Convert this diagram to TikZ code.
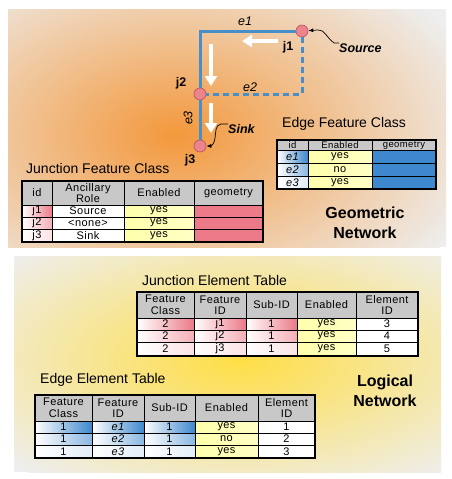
\documentclass[tikz,border=0pt]{standalone}
\usepackage{fontspec}
\setmainfont{Liberation Sans}
\newfontfamily\tabfont[LetterSpace=4]{Liberation Sans}
\newfontfamily\ttlfont{Liberation Sans}
\usetikzlibrary{arrows.meta}
\definecolor{panelc}{RGB}{238,238,238}
\definecolor{glowo}{RGB}{243,152,60}
\definecolor{glowy}{RGB}{255,222,70}
\definecolor{linec}{RGB}{72,142,200}
\definecolor{bluec}{RGB}{62,136,205}
\definecolor{pinkc}{RGB}{236,122,136}
\definecolor{circc}{RGB}{236,132,142}
\definecolor{circd}{RGB}{185,80,92}
\definecolor{yellowc}{RGB}{255,255,172}
\definecolor{headc}{RGB}{200,200,200}
\tikzset{
  tc/.style={draw=black,line width=0.7pt},
  hd/.style={fill=headc},
  wc/.style={fill=white},
  yc/.style={left color=yellowc,right color=yellowc!70!white},
  pk/.style={fill=pinkc},
  bl/.style={fill=bluec},
  pga/.style={left color=white,right color=pinkc},
  pgb/.style={left color=white,right color=pinkc!60!white},
  pgc/.style={left color=white,right color=pinkc!22!white},
  bga/.style={left color=white,right color=bluec},
  bgb/.style={left color=white,right color=bluec!60!white},
  bgc/.style={left color=white,right color=bluec!15!white},
  tab/.style={font=\tabfont\fontsize{11}{11.5}\selectfont,inner sep=0pt,align=center},
  ttl/.style={font=\ttlfont\fontsize{14}{16}\selectfont,anchor=west,inner sep=0pt},
  big/.style={font=\bfseries\fontsize{16}{20}\selectfont,align=center,inner sep=0pt},
  jn/.style={circle,draw=circd,fill=circc,line width=0.6pt,minimum size=12pt,inner sep=0pt},
  edgeline/.style={draw=linec,line width=3pt},
  dashedge/.style={edgeline,dash pattern=on 6pt off 4pt},
  warrow/.style={draw=white,line width=4pt,-{Triangle[width=12pt,length=10pt]}},
  conn/.style={draw=black,line width=0.7pt,-{Latex[length=5pt,width=4pt]}},
  jlab/.style={font=\bfseries\fontsize{12.5}{14}\selectfont,inner sep=0pt},
  elab/.style={font=\itshape\fontsize{12.5}{14}\selectfont,inner sep=0pt},
  rlab/.style={font=\bfseries\itshape\fontsize{12.5}{14}\selectfont,inner sep=0pt}
}
\newcommand\tcell[6]{\path[tc,#1] (#2,#3) rectangle (#4,#5); \node[tab] at ({(#2+#4)/2},{(#3+#5)/2}) {#6};}
\newcommand\smallhd{\fontsize{9.5}{10}\selectfont}
\begin{document}
\begin{tikzpicture}[x=1pt,y=-1pt]
\useasboundingbox (0,0) rectangle (452,479);
\fill[white] (0,0) rectangle (452,479);
% panels
\fill[panelc] (8,9) rectangle (446,247);
\fill[panelc] (14,256) rectangle (441,472);
\begin{scope}
  \clip (8,9) rectangle (446,247);
  \shade[inner color=glowo,outer color=panelc] (175,135) ellipse [x radius=320pt,y radius=200pt];
\end{scope}
\begin{scope}
  \clip (14,256) rectangle (441,472);
  \shade[inner color=glowy,outer color=panelc] (240,360) ellipse [x radius=320pt,y radius=150pt];
\end{scope}

% network
\node[jn] (j1) at (302,31) {};
\node[jn] (j2) at (200,94) {};
\node[jn] (j3) at (200,146) {};
\coordinate (c1) at (200,31);
\coordinate (c2) at (302,94);
\draw[edgeline] (j2) -- (c1) -- (j1);
\draw[edgeline] (j2) -- (j3);
\draw[dashedge] (j1) -- (c2) -- (j2);

\coordinate (a1s) at (278,41); \coordinate (a1e) at (242,41);
\coordinate (a2s) at (211,44); \coordinate (a2e) at (211,86);
\coordinate (a3s) at (211,103); \coordinate (a3e) at (211,133);
\draw[warrow] (a1s) -- (a1e);
\draw[warrow] (a2s) -- (a2e);
\draw[warrow] (a3s) -- (a3e);

\node[elab] (le1) at (245,21) {e1};
\node[elab] (le2) at (250,87) {e2};
\node[elab,rotate=90] (le3) at (188,118) {e3};
\node[jlab] (lj1) at (288,47) {j1};
\node[jlab] (lj2) at (181,83) {j2};
\node[jlab] (lj3) at (190,160) {j3};
\node[rlab,anchor=west] (src) at (339,48) {Source};
\node[rlab,anchor=west] (sink) at (228,129) {Sink};
\coordinate (srcend) at (339,43);
\coordinate (sinkend) at (228,124);
\draw[conn] (srcend) -- (334,43) .. controls (327,38) and (324,29) .. (318,30) -- (j1);
\draw[conn] (sinkend) -- (221,124) .. controls (215,125) and (216,132) .. (215,138) .. controls (214,145) and (211,146) .. (j3);

% Junction Feature Class
\node[ttl] (t1) at (26,168) {Junction Feature Class};
\tcell{hd}{22}{181}{52}{205}{id}
\tcell{hd}{52}{181}{124}{205}{Ancillary\\Role}
\tcell{hd}{124}{181}{194}{205}{Enabled}
\tcell{hd}{194}{181}{263}{205}{geometry}
\tcell{pga}{22}{205}{52}{217}{j1}
\tcell{wc}{52}{205}{124}{217}{Source}
\tcell{yc}{124}{205}{194}{217}{yes}
\tcell{pk}{194}{205}{263}{217}{}
\tcell{pgb}{22}{217}{52}{229}{j2}
\tcell{wc}{52}{217}{124}{229}{<none>}
\tcell{yc}{124}{217}{194}{229}{yes}
\tcell{pk}{194}{217}{263}{229}{}
\tcell{pgc}{22}{229}{52}{242}{j3}
\tcell{wc}{52}{229}{124}{242}{Sink}
\tcell{yc}{124}{229}{194}{242}{yes}
\tcell{pk}{194}{229}{263}{242}{}
\draw[line width=1.2pt] (22,181) rectangle (263,242);

% Edge Feature Class
\node[ttl] (t2) at (282,124) {Edge Feature Class};
\tcell{hd}{277}{140}{308}{150}{\smallhd id}
\tcell{hd}{308}{140}{372}{150}{\smallhd Enabled}
\tcell{hd}{372}{140}{436}{150}{\smallhd geometry}
\tcell{bga}{277}{150}{308}{163}{\itshape e1}
\tcell{yc}{308}{150}{372}{163}{yes}
\tcell{bl}{372}{150}{436}{163}{}
\tcell{bgb}{277}{163}{308}{176}{\itshape e2}
\tcell{yc}{308}{163}{372}{176}{no}
\tcell{bl}{372}{163}{436}{176}{}
\tcell{bgc}{277}{176}{308}{189}{\itshape e3}
\tcell{yc}{308}{176}{372}{189}{yes}
\tcell{bl}{372}{176}{436}{189}{}
\draw[line width=1.2pt] (277,140) rectangle (436,189);

\node[big] (gn) at (365,223) {Geometric\\Network};

% Junction Element Table
\node[ttl] (t3) at (142,280) {Junction Element Table};
\tcell{hd}{137}{292}{194}{318}{Feature\\Class}
\tcell{hd}{194}{292}{246}{318}{Feature\\ID}
\tcell{hd}{246}{292}{297}{318}{Sub-ID}
\tcell{hd}{297}{292}{356}{318}{Enabled}
\tcell{hd}{356}{292}{418}{318}{Element\\ID}
\tcell{pga}{137}{318}{194}{330}{2}
\tcell{pga}{194}{318}{246}{330}{j1}
\tcell{pga}{246}{318}{297}{330}{1}
\tcell{yc}{297}{318}{356}{330}{yes}
\tcell{wc}{356}{318}{418}{330}{3}
\tcell{pgb}{137}{330}{194}{342}{2}
\tcell{pgb}{194}{330}{246}{342}{j2}
\tcell{pgb}{246}{330}{297}{342}{1}
\tcell{yc}{297}{330}{356}{342}{yes}
\tcell{wc}{356}{330}{418}{342}{4}
\tcell{pgc}{137}{342}{194}{356}{2}
\tcell{pgc}{194}{342}{246}{356}{j3}
\tcell{pgc}{246}{342}{297}{356}{1}
\tcell{yc}{297}{342}{356}{356}{yes}
\tcell{wc}{356}{342}{418}{356}{5}
\draw[line width=1.2pt] (137,292) rectangle (418,356);

% Edge Element Table
\node[ttl] (t4) at (40,380) {Edge Element Table};
\tcell{hd}{35}{395}{92}{421}{Feature\\Class}
\tcell{hd}{92}{395}{144}{421}{Feature\\ID}
\tcell{hd}{144}{395}{195}{421}{Sub-ID}
\tcell{hd}{195}{395}{258}{421}{Enabled}
\tcell{hd}{258}{395}{315}{421}{Element\\ID}
\tcell{bga}{35}{421}{92}{433}{1}
\tcell{bga}{92}{421}{144}{433}{\itshape e1}
\tcell{bga}{144}{421}{195}{433}{1}
\tcell{yc}{195}{421}{258}{433}{yes}
\tcell{wc}{258}{421}{315}{433}{1}
\tcell{bgb}{35}{433}{92}{445}{1}
\tcell{bgb}{92}{433}{144}{445}{\itshape e2}
\tcell{bgb}{144}{433}{195}{445}{1}
\tcell{yc}{195}{433}{258}{445}{no}
\tcell{wc}{258}{433}{315}{445}{2}
\tcell{bgc}{35}{445}{92}{458}{1}
\tcell{bgc}{92}{445}{144}{458}{\itshape e3}
\tcell{bgc}{144}{445}{195}{458}{1}
\tcell{yc}{195}{445}{258}{458}{yes}
\tcell{wc}{258}{445}{315}{458}{3}
\draw[line width=1.2pt] (35,395) rectangle (315,458);

\node[big] (ln) at (385,391) {Logical\\Network};
\end{tikzpicture}
\end{document}
